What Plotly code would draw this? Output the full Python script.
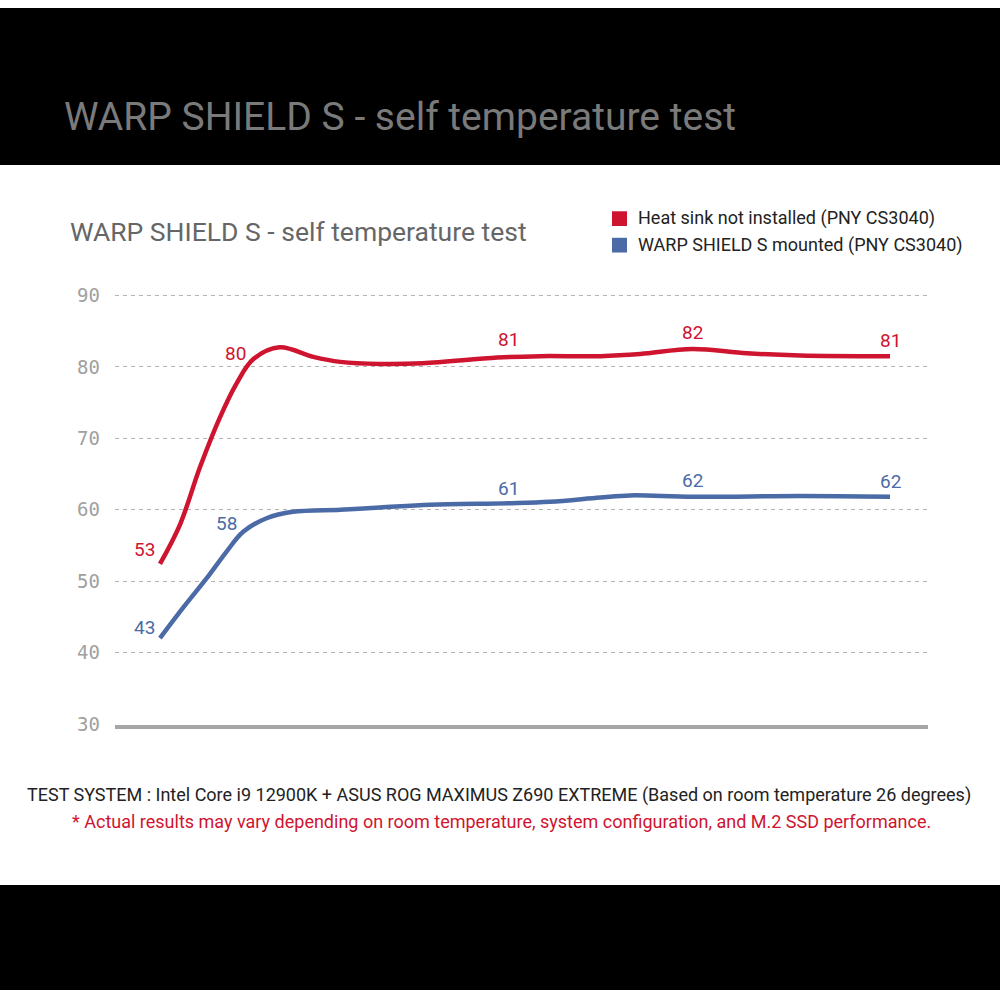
import plotly.graph_objects as go

# ---- data (x in arbitrary time units 0..100) ----
red_x = [0, 2.7, 5.5, 8.2, 10.5, 12.8, 16.4, 21.0, 24.7, 30.1, 36.0, 46.2, 52.1, 60.3, 65.8, 72.9, 80.4, 87.7, 100]
red_y = [52.4, 57.8, 66.0, 72.9, 77.7, 81.1, 82.75, 81.4, 80.7, 80.4, 80.5, 81.3, 81.5, 81.5, 81.8, 82.5, 81.9, 81.6, 81.5]
blue_x = [0, 3.2, 6.4, 9.1, 11.4, 14.6, 18.2, 24.7, 30.1, 37.0, 47.7, 53.4, 60.3, 64.4, 72.9, 87.7, 100]
blue_y = [42.0, 46.3, 50.4, 54.1, 56.9, 58.8, 59.7, 60.0, 60.3, 60.7, 60.9, 61.1, 61.7, 62.0, 61.8, 61.9, 61.8]

label_x = [0, 10.3, 47.7, 72.9, 100]
red_labels = [53, 80, 81, 82, 81]
blue_labels = [43, 58, 61, 62, 62]

series_names = ["Heat sink not installed (PNY CS3040)", "WARP SHIELD S mounted (PNY CS3040)"]
y_ticks = [30, 40, 50, 60, 70, 80, 90]

RED = "#cf1430"
BLUE = "#4b6ba6"

fig = go.Figure()
fig.add_trace(go.Scatter(x=red_x, y=red_y, mode="lines", line=dict(color=RED, width=4.5, shape="spline", smoothing=1.0),
                         name=series_names[0], showlegend=False, hoverinfo="skip"))
fig.add_trace(go.Scatter(x=blue_x, y=blue_y, mode="lines", line=dict(color=BLUE, width=4.5, shape="spline", smoothing=1.0),
                         name=series_names[1], showlegend=False, hoverinfo="skip"))

red_shift = [(-15, 10), (0, 13), (0, 20), (0, 20), (0, 19)]
blue_shift = [(-15, 4), (-9, 0), (0, 14), (0, 15), (0, 14)]

annotations = []
for lx, v, (xs, ys) in zip(label_x, red_labels, red_shift):
    annotations.append(dict(x=lx, y=v, text=str(v), showarrow=False, xref="x", yref="y",
                            xshift=xs, yshift=ys, font=dict(family="Roboto", size=19, color=RED)))
for lx, v, (xs, ys) in zip(label_x, blue_labels, blue_shift):
    annotations.append(dict(x=lx, y=v, text=str(v), showarrow=False, xref="x", yref="y",
                            xshift=xs, yshift=ys, font=dict(family="Roboto", size=19, color=BLUE)))

# titles
annotations.append(dict(x=0.062, y=0.889, xref="paper", yref="paper", xanchor="left", yanchor="middle",
                        text="WARP SHIELD S - self temperature test", showarrow=False,
                        font=dict(family="Roboto", size=39, color="#7a7a7a")))
annotations.append(dict(x=0.068, y=0.772, xref="paper", yref="paper", xanchor="left", yanchor="middle",
                        text="WARP SHIELD S - self temperature test", showarrow=False,
                        font=dict(family="Roboto", size=26.5, color="#666666")))
# legend
for k, nm in enumerate(series_names):
    yc = 0.786 - k * 0.027
    annotations.append(dict(x=0.636, y=yc, xref="paper", yref="paper", xanchor="left", yanchor="middle",
                            text=nm, showarrow=False, font=dict(family="Roboto", size=18, color="#222222")))
# footer
annotations.append(dict(x=0.4985, y=0.199, xref="paper", yref="paper", xanchor="center", yanchor="middle",
                        text="TEST SYSTEM : Intel Core i9 12900K + ASUS ROG MAXIMUS Z690 EXTREME (Based on room temperature 26 degrees)",
                        showarrow=False, font=dict(family="Roboto", size=18, color="#222222")))
annotations.append(dict(x=0.501, y=0.172, xref="paper", yref="paper", xanchor="center", yanchor="middle",
                        text="* Actual results may vary depending on room temperature, system configuration, and M.2 SSD performance.",
                        showarrow=False, font=dict(family="Roboto", size=18, color=RED)))

shapes = [
    dict(type="rect", xref="paper", yref="paper", x0=0, x1=1, y0=0.84, y1=1, fillcolor="black", line=dict(width=0), layer="below"),
    dict(type="rect", xref="paper", yref="paper", x0=0, x1=1, y0=0, y1=0.107, fillcolor="black", line=dict(width=0), layer="below"),
    dict(type="rect", xref="paper", yref="paper", x0=0.612, x1=0.627, y0=0.778, y1=0.793, fillcolor=RED, line=dict(width=0)),
    dict(type="rect", xref="paper", yref="paper", x0=0.612, x1=0.627, y0=0.751, y1=0.766, fillcolor=BLUE, line=dict(width=0)),
]

fig.update_layout(
    width=1000, height=1000, margin=dict(l=0, r=0, t=0, b=0),
    paper_bgcolor="white", plot_bgcolor="white",
    showlegend=False, annotations=annotations, shapes=shapes,
    xaxis=dict(domain=[0.115, 0.928], range=[-6.16, 105.2], showgrid=False, zeroline=False,
               showticklabels=False, showline=True, linecolor="#a6a6a6", linewidth=4, ticks=""),
    yaxis=dict(domain=[0.2703, 0.7109], range=[29.9, 90.5], tickvals=y_ticks, ticktext=[str(v) for v in y_ticks],
               showgrid=True, gridcolor="#b3b3b3", griddash="4px,4px", gridwidth=1, zeroline=False,
               showline=False, ticks="", ticklabelstandoff=14,
               tickfont=dict(family="DejaVu Sans Mono", size=19, color="#a0a0a0")),
)

fig.write_html("out.html", post_script="document.body.style.margin='0';document.documentElement.style.margin='0';")
